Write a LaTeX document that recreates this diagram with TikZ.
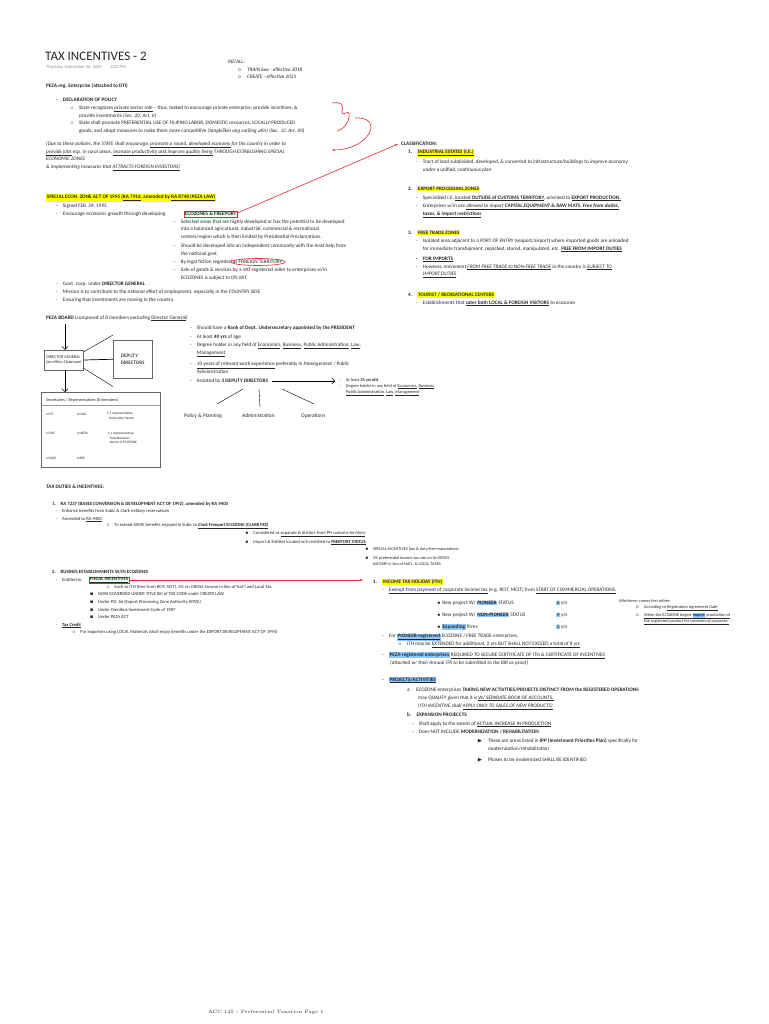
\documentclass[tikz,border=0pt]{standalone}
\usepackage{amssymb}
\usepackage{fontspec}
\setmainfont{Carlito}
\usetikzlibrary{arrows.meta}
\definecolor{hy}{RGB}{255,255,0}
\definecolor{hb}{RGB}{140,200,255}
\definecolor{rd}{RGB}{230,40,50}
\newcommand\uln[1]{\underline{#1}}
\newcommand\hly[1]{{\setlength\fboxsep{0.6pt}\colorbox{hy}{#1}}}
\newcommand\hlb[1]{{\setlength\fboxsep{0.6pt}\colorbox{hb}{#1}}}
\newcommand\sqb{{\fontsize{3}{3}\selectfont$\blacksquare$}}
\tikzset{
 t/.style={anchor=west,inner sep=0pt,font=\fontsize{5.2}{7.6}\selectfont,text=black!85},
 tb/.style={t,font=\fontsize{5.2}{7.6}\selectfont\bfseries},
 ti/.style={t,font=\fontsize{5.2}{7.6}\selectfont\itshape},
 tw/.style={t,align=left},
 box/.style={draw=black!60,line width=0.5pt},
 red/.style={draw=rd,line width=0.6pt},
}
\begin{document}
\begin{tikzpicture}[x=1pt,y=-1pt]
\useasboundingbox[fill=white] (0,0) rectangle (768,1024);
% header
\node[t,font=\fontsize{13}{14}\selectfont] (title) at (45,56) {TAX INCENTIVES - 2};
\node[t,text=black!45,font=\fontsize{4.5}{5}\selectfont] (date) at (46,67) {Thursday, September 26, 2024\qquad 8:22 PM};
\node[ti] (recall) at (228,62) {RECALL:};
\node[ti] (r1) at (238,69.5) {$\triangleright$\quad TRAIN law - effective 2018};
\node[ti] (r2) at (238,77) {$\triangleright$\quad CREATE - effective 2021};
\node[tb] (peza) at (46,86) {PEZA-reg. Enterprise (attached to DTI)};
\node[tb] (decl) at (56,100) {-\quad DECLARATION OF POLICY};
\node[tw] (d1) at (70,112) {$\circ$\quad State recognizes \uln{private sector role} -- thus, tasked to encourage private enterprise, provide incentives, \&\\\phantom{$\circ$\quad }provide investments \textit{(Sec. 20. Art. II)}};
\node[tw] (d2) at (70,127) {$\circ$\quad State shall promote PREFERENTIAL USE OF FILIPINO LABOR, DOMESTIC resources, LOCALLY-PRODUCED\\\phantom{$\circ$\quad }goods, and adopt measures to make them more competitive \textit{(tangkilikin ang sariling atin) (Sec. 12, Art. XII)}};
\node[tw,font=\fontsize{5.2}{7.7}\selectfont\itshape] (due) at (46,156) {(Due to these policies, the STATE shall encourage, \uln{promote a sound, developed economy} for the country in order to\\\uln{provide jobs} esp. in rural areas, \uln{increase productivity and improve quality living} THROUGH ESTABLISHING SPECIAL\\ECONOMIC ZONES\\\& implementing measures that \uln{ATTRACTS FOREIGN INVESTORS)}};
% special econ zone
\node[tb] (sez) at (46,198) {\hly{SPECIAL ECON. ZONE ACT OF 1995 (\uln{RA 7916}, amended by \uln{RA 8748 (PEZA LAW)}}};
\node[t] (s1) at (56,206) {-\quad Signed FEB. 24, 1995};
\node[t] (s2) at (56,214) {-\quad Encourage economic growth through developing};
\node[tb,draw=rd,inner sep=1pt] (eco) at (184,214) {ECOZONES \& FREEPORT};
\node[tw] (e1) at (173,229.5) {--\quad Selected areas that are highly developed or has the potential to be developed\\\phantom{--\quad }into a balanced agricultural, industrial, commercial \& recreational\\\phantom{--\quad }centers/region which is then limited by Presidential Proclamations.};
\node[tw] (e2) at (173,250) {--\quad Should be developed into an independent community with the least help from\\\phantom{--\quad }the national govt.};
\node[t] (e3) at (173,262) {--\quad By legal fiction regarded as FOREIGN TERRITORY};
\node[tw] (e4) at (173,274) {--\quad Sale of goods \& services by a VAT-registered seller to enterprises w/in\\\phantom{--\quad }ECOZONES is subject to 0\% VAT.};
\node[t] (g1) at (56,284) {-\quad Govt. corp. under \textbf{DIRECTOR GENERAL}};
\node[t] (g2) at (56,292) {-\quad Mission is to contribute to the national effort of employment, especially in the COUNTRY SIDE};
\node[t] (g3) at (56,300) {-\quad Ensuring that investments are moving in the country.};
% classification
\node[tb] (cls) at (401,144) {CLASSIFICATION:};
\node[tb] (c1) at (408,153) {1.\quad\hly{\uln{INDUSTRIAL ESTATES (I.E.)}}};
\node[tw] (c1a) at (416,166) {-\quad Tract of land subdivided, developed, \& converted to infrastructure/buildings to improve economy\\\phantom{-\quad }under a unified, continuous plan};
\node[tb] (c2) at (408,189) {2.\quad\hly{EXPORT PROCESSING ZONES}};
\node[t] (c2a) at (416,198) {-\quad Specialized I.E. \uln{located \textbf{OUTSIDE of CUSTOMS TERRITORY}}, oriented to \textbf{\uln{EXPORT PRODUCTION.}}};
\node[tw,font=\fontsize{5.2}{7.6}\selectfont\itshape] (c2b) at (416,210.5) {-\quad Enterprises w/in are \uln{allowed to import \textbf{CAPITAL EQUIPMENT \& RAW MATS. Free from duties,}}\\\phantom{-\quad }\textbf{\uln{taxes, \& import restrictions}}};
\node[tb] (c3) at (408,233) {3.\quad\hly{FREE TRADE ZONES}};
\node[tw] (c3a) at (416,245.5) {-\quad Isolated area adjacent to a PORT OF ENTRY (seaport/airport) where imported goods are unloaded\\\phantom{-\quad }for immediate transhipment, repacked, stored, manipulated, etc. \textbf{\uln{FREE FROM IMPORT DUTIES}}};
\node[tb] (c3b) at (416,259) {-\quad\uln{FOR IMPORTS}};
\node[tw,font=\fontsize{5.2}{7.6}\selectfont\itshape] (c3c) at (416,271) {-\quad However, movement \uln{FROM FREE TRADE to NON-FREE TRADE} in the country is \uln{SUBJECT TO}\\\phantom{-\quad }\uln{IMPORT DUTIES}};
\node[tb] (c4) at (408,295) {4.\quad\hly{TOURIST / RECREATIONAL CENTERS}};
\node[t] (c4a) at (416,303) {-\quad Establishments that \textbf{\uln{cater both LOCAL \& FOREIGN VISITORS}} to ecozones};
% PEZA board
\node[t] (pb) at (46,318) {\textbf{PEZA BOARD} (composed of 8 members excluding \uln{Director General})};
\node[box,t,align=left,font=\fontsize{4.2}{5.5}\selectfont,inner sep=2pt,minimum height=20pt] (dg) at (44,360) {DIRECTOR GENERAL\\(ex officio Chairman)};
\node[box,anchor=north west,align=left,minimum width=39pt,minimum height=38pt,inner sep=2pt,font=\fontsize{5.2}{7.6}\selectfont] (dd) at (113,340) {DEPUTY\\DIRECTORS};
\coordinate (pbd) at (65,324);
\draw[-{Straight Barb[length=3pt]},line width=0.5pt] (pbd) -- (dg.north -| pbd);
\draw[line width=0.7pt] (dg.east) -- (dd.west);
\draw[line width=0.4pt] (dg.north east)++(0,2) -- ([yshift=5]dd.north west);
\draw[line width=0.4pt] (dg.south east)++(0,-2) -- ([yshift=-8]dd.south west);
\node[box,anchor=north west,minimum width=119pt,minimum height=75pt] (sec) at (41,392) {};
\draw[-{Straight Barb[length=3pt]},line width=0.5pt] (dg.south -| pbd) -- (sec.north -| pbd);
\node[t,font=\fontsize{4.2}{5}\selectfont] (sech) at (46,400) {Secretaries / Representatives (8 members)};
\draw[black!40,line width=0.3pt] (41,405) -- (160,405);
\tikzset{ts/.style={t,font=\fontsize{3.5}{4.5}\selectfont,align=left}}
\node[ts] (m1) at (46,414) {• DTI};
\node[ts] (m2) at (77,414) {• DILG};
\node[ts] (m3) at (107,416) {• 1 representative\\\ \ from Labor Sector};
\node[ts] (m4) at (46,433) {• DOF};
\node[ts] (m5) at (77,433) {• NEDA};
\node[ts] (m6) at (108,438) {• 1 representative\\\ \ from Business\\\ \ Sector of ECOZONE};
\node[ts] (m7) at (46,458) {• DOLE};
\node[ts] (m8) at (77,458) {• BSP};
\node[t] (q1) at (190,328) {-\quad Should have a \textbf{Rank of Dept. Undersecretary appointed by the PRESIDENT}};
\node[t] (q2) at (190,337) {-\quad At least \textbf{40 yrs} of age};
\node[tw] (q3) at (190,350) {-\quad Degree holder in any field of \uln{Economics}, \uln{Business}, \uln{Public Administration}, \uln{Law},\\\phantom{-\quad }\uln{Management}};
\node[tw] (q4) at (190,368) {-\quad \uln{10 years of relevant work experience} preferably in \textit{Management / Public}\\\phantom{-\quad }\textit{Administration}};
\node[t] (q5) at (190,381) {-\quad Assisted by \textbf{3 DEPUTY DIRECTORS}};
\node[tw,font=\fontsize{4.4}{6.3}\selectfont] (q6) at (340,387) {-\quad At least \textbf{35 yrs old}\\-\quad Degree holder in any field of \uln{Economics}, \uln{Business},\\\phantom{-\quad }\uln{Public Administration}, \uln{Law}, \uln{Management}};
\draw[-{Straight Barb[length=3pt]},line width=0.4pt] ([xshift=4]q5.east) -- (335,381);
\node[t,font=\fontsize{5.4}{6}\selectfont] (o1) at (184,416) {Policy \& Planning};
\node[t,font=\fontsize{5.4}{6}\selectfont] (o2) at (242,416) {Administration};
\node[t,font=\fontsize{5.4}{6}\selectfont] (o3) at (301,416) {Operations};
\draw[line width=0.4pt] (243,389) -- (217,404);
\draw[line width=0.4pt] (259,389) -- (260,407);
\draw[line width=0.4pt] (282,389) -- (314,404);
% tax duties
\node[tb] (td) at (46,487) {TAX DUTIES \& INCENTIVES:};
\node[tb,font=\fontsize{4.8}{7}\selectfont\bfseries] (t1) at (52,504) {1.\quad RA 7227 (BASES CONVERSION \& DEVELOPMENT ACT OF 1992), amended by RA 9400};
\tikzset{tx/.style={t,font=\fontsize{4.6}{6.5}\selectfont}}
\node[tx] (t1a) at (56,511) {-\quad Enhance benefits from Subic \& Clark military reservations};
\node[tx] (t1b) at (56,519) {-\quad Amended to \uln{RA 9400}};
\node[tx] (t1c) at (106,526) {$\circ$\quad To extend SAME benefits enjoyed in Subic to \textbf{\uln{Clark Freeport ECOZONE (CLARK FEZ)}}};
\node[tx] (t1d) at (245,534) {$\bullet$\quad Considered as \uln{separate \& distinct from PH customs territory}};
\node[tx] (t1e) at (245,542) {$\bullet$\quad Import \& Entities located w/in entitled to \textbf{\uln{FREEPORT STATUS}}};
\node[t,font=\fontsize{4.2}{6}\selectfont] (t1f) at (365,549) {$\bullet$\quad SPECIAL INCENTIVES (tax \& duty-free importations};
\node[tw,font=\fontsize{4.2}{6.5}\selectfont] (t1g) at (365,561) {$\bullet$\quad 5\% preferential income tax rate on its GROSS\\\phantom{$\bullet$\quad }INCOME in lieu of NATL. \& LOCAL TAXES.};
\node[tb,font=\fontsize{4.8}{7}\selectfont\bfseries] (t2) at (52,572) {2.\quad BUSINES ESTABLISHMENTS W/IN ECOZONES};
\node[tx] (t2a) at (56,580) {-\quad Entitled to};
\node[tb,font=\fontsize{4.8}{7}\selectfont\bfseries,draw=rd,inner sep=1pt] (fi) at (89,580) {\uln{FISCAL INCENTIVES}};
\node[tx] (f1) at (106,587) {$\circ$\quad Such as ITH (free from RCIT, SCIT), 5\% on GROSS Income in lieu of Nat'l and Local Tax,};
\node[tx] (f2) at (90,594) {\sqb\quad NOW GOVERNED UNDER TITLE XIII of TAX CODE under CREATE LAW};
\node[tx] (f3) at (90,602) {\sqb\quad Under P.D. 66 (Export Processing Zone Authority (EPZA)};
\node[tx] (f4) at (90,610) {\sqb\quad Under Omnibus Investment Code of 1987};
\node[tx] (f5) at (90,617) {\sqb\quad Under PEZA ACT};
\node[tx] (tc) at (56,625) {-\quad \textbf{\uln{Tax Credit}}};
\node[tx] (tc1) at (72,632) {$\circ$\quad For exporters using LOCAL Materials (shall enjoy benefits under the EXPORT DEVELOPMENT ACT OF 1994)};
% ITH
\node[tb] (ith) at (373,582) {1.\quad\hly{INCOME TAX HOLIDAY (ITH)}};
\node[t] (i1) at (382,591) {-\quad \uln{Exempt from payment of corporate income tax} (e.g. RCIT, MCIT) from \uln{START OF COMMERCIAL OPERATIONS.}};
\node[t] (p1) at (437,603) {$\bullet$ New project W/ \hlb{\textbf{PIONEER}} STATUS};
\node[t] (p1y) at (556,603) {\hlb{6} yrs};
\node[t] (p2) at (437,615) {$\bullet$ New project W/ \hlb{\textbf{NON-PIONEER}} STATUS};
\node[t] (p2y) at (556,615) {\hlb{4} yrs};
\node[t] (p3) at (437,627) {$\bullet$ \hlb{\textbf{Expanding}} firms};
\node[t] (p3y) at (556,627) {\hlb{3} yrs};
\node[t,font=\fontsize{4.3}{6}\selectfont] (w0) at (619,601) {Whichever comes first either:};
\node[t,font=\fontsize{4.3}{6}\selectfont] (w1) at (636,608) {$\triangleright$\quad According to \uln{Registration Agreement Date}};
\node[tw,font=\fontsize{4.3}{6}\selectfont] (w2) at (636,618.5) {$\triangleright$\quad\uln{When the ECOZONE begins \hlb{\textbf{export}} production of}\\\phantom{$\triangleright$\quad}\uln{the registered product for commercial purposes.}};
\node[t] (i2) at (382,637) {-\quad For \hlb{\textbf{\uln{PIONEER-registered}}} ECOZONE / FREE TRADE enterprises,};
\node[t] (i2a) at (398,645) {$\circ$\quad ITH may be \uln{EXTENDED for additional. 2 yrs BUT SHALL NOT EXCEED a total of 8 yrs}};
\node[t] (i3) at (382,655) {-\quad \hlb{\textbf{PEZA-registered enterprises}} \uln{REQUIRED TO SECURE CERTIFICATE OF ITH \& CERTIFICATE OF INCENTIVES}};
\node[ti] (i3a) at (390,663) {(attached w/ their Annual ITR to be submitted to the BIR as proof)};
\node[tb] (i4) at (382,680) {-\quad\hlb{\uln{PROJECTS/ACTIVITIES}}};
\node[t] (a1) at (407,690) {a.\quad ECOZONE enterprises \textbf{TAKING NEW ACTIVITIES/PROJECTS DISTINCT FROM the REGISTERED OPERATIONS}};
\node[t] (a2) at (418,698) {may QUALIFY given that it is \uln{W/ SEPARATE BOOK OF ACCOUNTS.}};
\node[ti] (a3) at (418,707) {(ITH INCENTIVE shall \uln{APPLY ONLY TO SALES OF NEW PRODUCTS)}};
\node[tb] (b1) at (407,715) {b.\quad EXPANSION PROJECCTS};
\node[t] (b2) at (412,724) {-\quad Shall apply to the extent of \uln{ACTUAL INCREASE IN PRODUCTION}};
\node[t] (b3) at (412,732) {-\quad Does NOT INCLUDE \textbf{MODERNIZATION / REHABILITATION}};
\node[tw] (b4) at (477,745) {$\blacktriangleright$\quad These are areas listed in \textbf{IPP (Investment Priorities Plan)} specifically for\\\phantom{$\blacktriangleright$\quad}modernization/rehabilitation};
\node[t] (b5) at (477,760) {$\blacktriangleright$\quad Phases to be modernized SHALL BE IDENTIFIED};
% footer
\node[t,font=\fontfamily{lmr}\fontsize{4.8}{6}\selectfont] (foot) at (208,1012) {ACC 145 - Preferential Taxation Page 1};
% red annotations
\coordinate (cls0) at ([xshift=-3]cls.west);
\draw[red,-{Stealth[length=3pt]}] ([yshift=-2]eco.north east) -- (cls0);
\draw[red] (332,103) .. controls (352,100) and (335,118) .. (346,113) .. controls (352,108) and (350,128) .. (337,131);
\draw[red,-{Stealth[length=3pt]}] (355,118) .. controls (385,116) and (370,150) .. (332,150);
\draw[red,-{Stealth[length=3pt]}] (fi.east) -- (363,580);
\draw[red] ([xshift=-24]e3.east) ellipse (27pt and 3.5pt);
\end{tikzpicture}
\end{document}
